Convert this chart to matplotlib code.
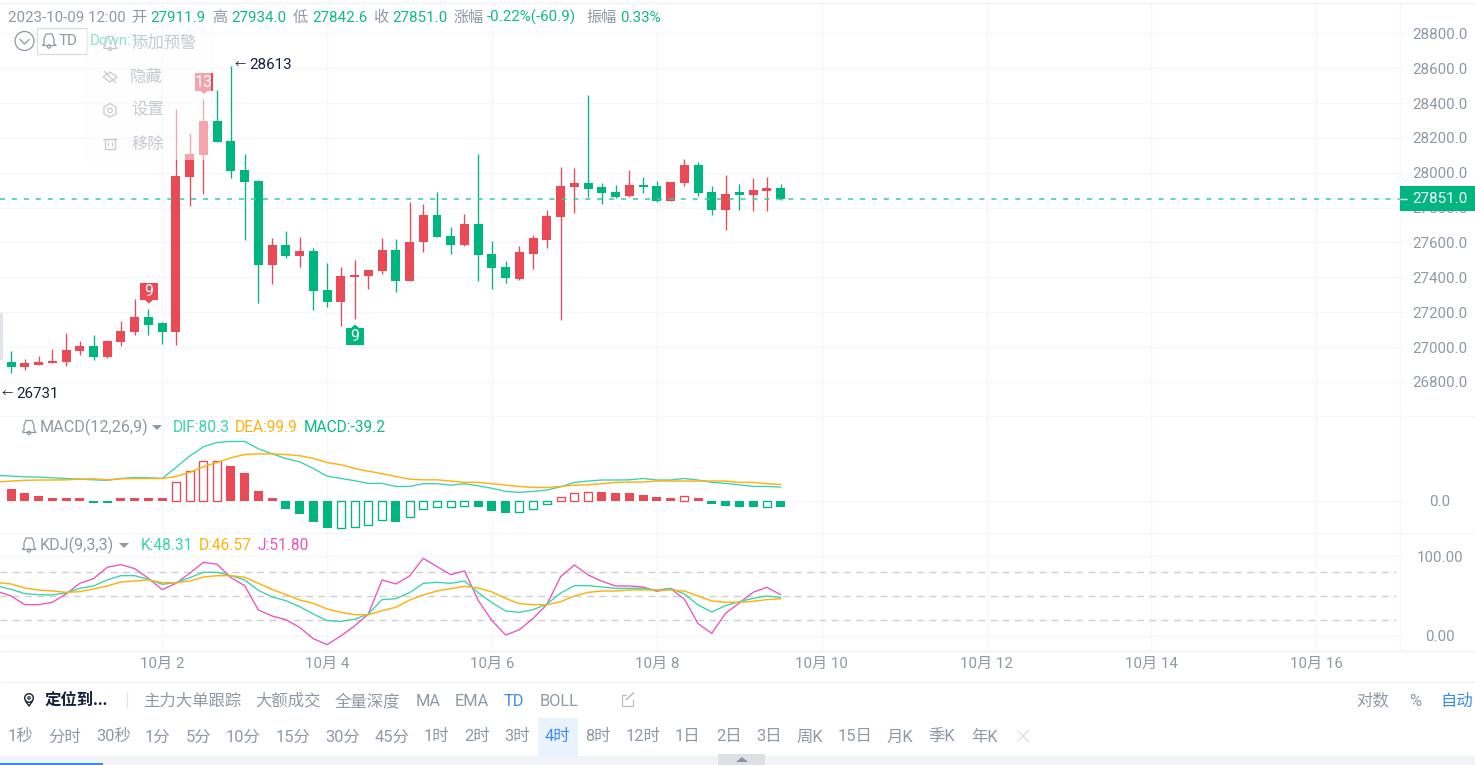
import numpy as np
import matplotlib
matplotlib.use("Agg")
import matplotlib.pyplot as plt
from matplotlib.patches import Rectangle, Polygon, Circle

plt.rcParams['font.family'] = ['Roboto', 'Noto Sans CJK SC', 'DejaVu Sans']
plt.rcParams['lines.scale_dashes'] = False

# ---------- data ----------
opens = [26912,26883,26896,26906,26912,26975,27004,26941,27027,27084,27170,27136,27084,27975,28102,28295,28180,28014,27951,27473,
         27587,27520,27549,27329,27256,27400,27405,27434,27556,27377,27601,27757,27635,27585,27708,27536,27457,27392,27536,27614,
         27744,27916,27939,27916,27888,27865,27929,27922,27836,27939,28044,27888,27788,27888,27870,27893,27911.9]
closes = [26883,26906,26912,26918,26985,27004,26941,27032,27090,27170,27128,27084,27979,28110,28295,28175,28008,27945,27473,27587,
          27520,27549,27319,27256,27405,27415,27442,27556,27377,27601,27757,27629,27585,27708,27528,27451,27394,27543,27624,27750,
          27922,27939,27906,27882,27863,27929,27916,27836,27945,28044,27882,27788,27880,27872,27903,27911,27851]
highs = [26975,26933,26946,26986,27082,27032,27069,27038,27147,27277,27216,27141,28364,28230,28425,28473,28613,28110,27956,27625,
         27664,27629,27566,27480,27457,27497,27442,27625,27618,27830,27823,27888,27687,27761,28110,27606,27496,27582,27642,27784,
         28033,28027,28448,27943,27932,28018,27974,27951,27945,28081,28060,27926,27989,27938,27968,27975,27934]
lows = [26850,26868,26895,26906,26889,26956,26927,26937,27004,27069,27067,27019,27013,27809,27880,28175,27968,27612,27252,27364,
        27509,27457,27210,27228,27119,27160,27333,27417,27314,27377,27547,27629,27532,27578,27377,27331,27367,27383,27447,27568,
        27153,27769,27859,27819,27857,27860,27882,27830,27836,27922,27865,27756,27669,27788,27779,27779,27842.6]
last_price = 27851.0

macd_hist = [67,45,29,16,16,16,-14,-14,16,16,16,16,110,174,233,233,206,163,59,16,
             -51,-80,-123,-159,-159,-153,-145,-116,-123,-94,-47,-39,-39,-29,-37,-59,-71,-65,-47,-20,
             20,43,49,51,45,45,35,22,16,27,16,-22,-29,-37,-37,-35,-39.2]
macd_hollow = [12,13,14,15,24,25,26,27,29,30,31,32,33,37,38,39,40,41,42,49,55]
# the line series start one bar further left (clipped at the chart edge)
dif = [149,145,141,139,135,131,127,123,120,131,137,135,131,196,263,318,343,349,349,306,276,249,229,190,145,131,118,102,102,84,
       84,100,100,92,100,88,73,55,49,55,63,82,108,116,122,122,123,131,122,122,131,122,108,102,94,84,84,80.3]
dea = [110,116,120,122,122,123,127,129,123,129,131,131,131,143,167,200,225,253,272,276,276,272,265,249,225,212,190,174,159,143,
       127,123,123,116,108,108,100,92,84,78,78,84,92,94,100,108,110,110,116,116,116,116,116,116,108,108,100,96]
kdj_k = [62.7,58.4,53,51.7,51.3,53.8,59.7,62.7,70.3,75.7,75.7,71.1,64.8,66.9,73.2,80,80,75.7,70.3,57.2,48.7,44.1,36.5,27.2,18.8,17.9,20.5,27.2,45.4,46.6,
         54.2,66,67.3,66,69,54.2,41.6,31,29.3,32.7,39.9,53.8,63.1,63.1,61.4,59.7,59.7,59.7,57.6,59.7,52.5,38.6,29.7,37.8,42.8,47,50,48.31]
kdj_d = [66.9,65.2,60.1,57.6,56.3,54.6,55.5,58.9,62.7,67.7,69,70.3,66.9,66.9,69,74,75.7,75.7,73.6,66,58.4,51.7,44.9,40.7,33.5,29.3,26.4,26.4,31.4,35.7,
         44.9,51.3,56.3,59.3,62.2,60.1,55.1,47,40.3,39,39,42.8,50,54.6,56.3,56.3,57.6,57.6,57.6,57.6,56.3,50,43.7,42,42,43.2,45.4,46.57]
kdj_j = [55.9,50,39,39,42,52.5,66,71.9,86.3,89.7,84.6,72.4,58,66,78.7,92.6,90.1,73.2,63.1,32.3,24.7,20,10.3,-4,-11.6,-0.6,12,27.2,70.3,65.2,
         75.3,97.7,87.1,77,81.7,44.5,18.8,0.6,7.4,21.7,39.5,74.5,89.2,76.6,68.6,62.7,62.7,61.4,55.9,59.3,46.2,15,2.7,28.1,41.1,54.6,61,51.80]

price_ticks = [26800,27000,27200,27400,27600,27800,28000,28200,28400,28600,28800]
date_positions = [11,23,35,47,59,71,83,95]
date_labels = ['10月 2','10月 4','10月 6','10月 8','10月 10','10月 12','10月 14','10月 16']
kdj_guides = [20,50,80]

# ---------- colours ----------
RED, GREEN = '#ea4a56', '#00b680'
TEAL, ORANGE, PINK = '#35d3b0', '#ffb10f', '#e953c0'
GREY, TXT_GREEN, NAVY, BLUE = '#8f98a6', '#0dbb85', '#14213d', '#3c8cf0'
GRID = '#f6f7f8'

W, H = 1475, 765
fig = plt.figure(figsize=(W / 100, H / 100), dpi=100, facecolor='white')

BAR_PX = 13.74
X0_IDX = 11 - 162.2 / BAR_PX
X1_IDX = 11 + (1407 - 162.2) / BAR_PX
FS = 10.9       # numbers on axes and header
FS_LEG = 11.2   # indicator legends
FS_BAR = 11.8   # toolbars and menu


def panel(top, bottom):
    ax = fig.add_axes([0, 1 - bottom / H, 1407 / W, (bottom - top) / H], zorder=1)
    ax.set_xlim(X0_IDX, X1_IDX)
    for s in ax.spines.values():
        s.set_visible(False)
    ax.set_facecolor('none')
    ax.yaxis.tick_right()
    ax.tick_params(axis='y', length=0, pad=23.76, labelsize=FS, labelcolor=GREY)
    ax.tick_params(axis='x', length=0, labelbottom=False)
    ax.set_xticks(date_positions)
    ax.grid(True, color=GRID, lw=1)
    ax.set_axisbelow(True)
    return ax


def center_labels(ax):
    for l in ax.get_yticklabels():
        l.set_ha('center')


idx = np.arange(len(opens))
line_idx = np.arange(-1, len(opens))
o, c = np.array(opens), np.array(closes)
up = c >= o
colors = [RED if u else GREEN for u in up]

# ---------- price panel ----------
ax = panel(5.4, 416.4)
ax.set_ylim(26602, 28960.7)
ax.set_yticks(price_ticks)
ax.set_yticklabels([f'{p:.1f}' for p in price_ticks])
center_labels(ax)
ax.vlines(idx, lows, highs, colors=colors, lw=0.95, zorder=3)
ax.bar(idx, np.abs(c - o), bottom=np.minimum(o, c), width=0.655, color=colors, lw=0, zorder=4)
ax.plot([X0_IDX, 11 + (1400 - 162.2) / BAR_PX], [last_price] * 2, color='#35cd9f', lw=1.1,
        ls=(0, (3.6, 5.0)), zorder=5)

# ---------- MACD panel ----------
ax2 = panel(416, 533)
ax2.set_ylim(-190, 498.8)
ax2.set_yticks([0])
ax2.set_yticklabels(['0.0'])
center_labels(ax2)
h = np.array(macd_hist)
hollow = np.isin(idx, macd_hollow)
hc = [RED if v > 0 else GREEN for v in h]
ax2.bar(idx[~hollow], h[~hollow], width=0.655, color=np.array(hc)[~hollow], lw=0, zorder=3)
ax2.bar(idx[hollow], h[hollow], width=0.58, facecolor='white', edgecolor=np.array(hc)[hollow], lw=0.95, zorder=3)
ax2.plot(line_idx, dif, color=TEAL, lw=0.95, zorder=4)
ax2.plot(line_idx, dea, color=ORANGE, lw=1.05, zorder=5)

# ---------- KDJ panel ----------
ax3 = panel(533, 651)
ax3.set_ylim(-19.6, 129.7)
ax3.set_yticks([0, 100])
ax3.set_yticklabels(['0.00', '100.00'])
center_labels(ax3)
ax3.tick_params(axis='x', labelbottom=True, pad=4.2, labelsize=FS, labelcolor=GREY)
ax3.set_xticklabels(date_labels)
for g in kdj_guides:
    ax3.plot([X0_IDX, 11 + (1396 - 162.2) / BAR_PX], [g, g], color='#cfcfcf', lw=1.0,
             ls=(0, (5.0, 3.8)), zorder=2)
ax3.plot(line_idx, kdj_j, color=PINK, lw=0.95, zorder=3)
ax3.plot(line_idx, kdj_k, color=TEAL, lw=0.95, zorder=4)
ax3.plot(line_idx, kdj_d, color=ORANGE, lw=1.05, zorder=5)

# ---------- interface layer, in pixel coordinates ----------
ui = fig.add_axes([0, 0, 1, 1], zorder=5)
ui.set_xlim(0, W)
ui.set_ylim(H, 0)
ui.axis('off')


def t(x, y, s, color=GREY, size=FS, ha='left', weight='normal', z=6, **kw):
    ui.text(x, y, s, color=color, fontsize=size, ha=ha, va='center', fontweight=weight, zorder=z, **kw)


def ln(xs, ys, color='#f0f1f3', lw=1.0, z=2, **kw):
    ui.plot(xs, ys, color=color, lw=lw, zorder=z, solid_capstyle='butt', **kw)


def bell(x, y, color=GREY, z=6, lw=0.9):
    xs = [x - 7, x - 5, x - 5, x - 3, x + 3, x + 5, x + 5, x + 7]
    ys = [y + 5, y + 4, y - 1, y - 6, y - 6, y - 1, y + 4, y + 5]
    ln(xs, ys, color=color, lw=lw, z=z)
    ln([x - 7, x + 7], [y + 5, y + 5], color=color, lw=lw, z=z)
    ui.add_patch(Circle((x, y + 6.5), 1.6, fc='none', ec=color, lw=lw, zorder=z))


def rect(x0, y0, x1, y1, fc, z=1, **kw):
    ui.add_patch(Rectangle((x0, y0), x1 - x0, y1 - y0, fc=fc, ec='none', zorder=z, **kw))


# frame lines
ln([0, W], [3, 3])
ln([1400, 1400], [5, 651], color=GRID)
ln([0, W], [416, 416], color=GRID)
ln([0, W], [533, 533], color=GRID)
ln([0, W], [651, 651], color='#f0f1f3')
ln([0, W], [681.5, 681.5], color='#f0f1f3')
rect(0, 313, 3, 360, '#e1e4ea')

# header
for x, s, col in [(8, '2023-10-09 12:00', GREY), (131, '开', GREY), (150, '27911.9', TXT_GREEN), (212, '高', GREY),
                  (231, '27934.0', TXT_GREEN), (292.5, '低', GREY), (312, '27842.6', TXT_GREEN), (373, '收', GREY),
                  (392, '27851.0', TXT_GREEN), (453, '涨幅', GREY), (487, '-0.22%(-60.9)', TXT_GREEN),
                  (586, '振幅', GREY), (620, '0.33%', TXT_GREEN)]:
    t(x, 17.5, s, col)

# indicator legends
ui.add_patch(Circle((24.5, 41), 9.5, fc='white', ec=GREY, lw=0.9, zorder=3))
ln([19.5, 24.5, 29.5], [39, 44, 39], color=GREY, lw=0.9, z=4)
ui.add_patch(Rectangle((36.5, 27.5), 50, 26, fc='white', ec='#d9dce1', lw=0.9, zorder=3))
bell(49, 40, z=4)
t(59, 40.5, 'TD', GREY, z=4)
t(90, 40.5, 'Down:1', '#1cc89a', z=4)

bell(29, 426.5, z=6)
t(40, 427.5, 'MACD(12,26,9)', size=FS_LEG + 0.4)
ui.add_patch(Polygon([[152, 425], [162, 425], [157, 430]], fc=GREY, ec='none', zorder=6))
t(173, 427.5, 'DIF:80.3', TEAL, size=FS_LEG)
t(235, 427.5, 'DEA:99.9', ORANGE, size=FS_LEG)
t(304, 427.5, 'MACD:-39.2', TXT_GREEN, size=FS_LEG)

bell(29, 544, z=6)
t(40, 545, 'KDJ(9,3,3)', size=FS_LEG + 0.4)
ui.add_patch(Polygon([[119, 543], [129, 543], [124, 548]], fc=GREY, ec='none', zorder=6))
t(141, 545, 'K:48.31', TEAL, size=FS_LEG)
t(199, 545, 'D:46.57', ORANGE, size=FS_LEG)
t(258, 545, 'J:51.80', PINK, size=FS_LEG)

# extreme labels
t(235, 65, '←', NAVY, size=8)
t(249, 65, '28613', NAVY)
t(2, 393.5, '←', NAVY, size=8)
t(16, 393.5, '26731', NAVY)

# TD count tags
rect(140, 283, 158, 300, RED, z=3)
ui.add_patch(Polygon([[145, 300], [153, 300], [149, 303.5]], fc=RED, ec='none', zorder=3))
t(149, 291.5, '9', 'white', size=11.5, ha='center', z=4)
rect(346, 328, 364, 345, GREEN, z=3)
ui.add_patch(Polygon([[351, 328], [359, 328], [355, 324.5]], fc=GREEN, ec='none', zorder=3))
t(355, 336.5, '9', 'white', size=11.5, ha='center', z=4)
rect(195, 73, 213, 90.5, RED, z=3)
ui.add_patch(Polygon([[200, 90.5], [208, 90.5], [204, 94]], fc=RED, ec='none', zorder=3))
t(204, 82, '13', 'white', size=11.5, ha='center', z=4)

# context menu
rect(85, 25, 213, 162, '#8890a0', z=4.8, alpha=0.015)
rect(87, 27, 211, 160, 'white', z=5, alpha=0.5)
MC = '#c6c9cf'
for y, s, x in [(43, '添加预警', 131), (77, '隐藏', 130), (110, '设置', 131), (144, '移除', 131)]:
    t(x, y, s, MC, size=FS_BAR)
bell(110, 42.5, MC)
ui.add_patch(Polygon([[103, 77], [110, 72], [117, 77], [110, 82]], fc='none', ec=MC, lw=0.9, zorder=6))
ln([104, 116], [71, 83], color=MC, lw=0.9, z=6)
ui.add_patch(Polygon([[110, 103.5], [116, 107], [116, 114], [110, 117], [104, 114], [104, 107]], fc='none', ec=MC, lw=0.9, zorder=6))
ui.add_patch(Circle((110, 110.5), 2.3, fc='none', ec=MC, lw=0.9, zorder=6))
ln([103, 117], [139, 139], color=MC, lw=0.9, z=6)
ui.add_patch(Rectangle((105, 139), 10, 10, fc='none', ec=MC, lw=0.9, zorder=6))
ln([108, 108], [142, 146], color=MC, lw=0.9, z=6)
ln([112, 112], [142, 146], color=MC, lw=0.9, z=6)

# last price tag
rect(1400, 186, 1475, 211, GREEN, z=4)
ln([1400, 1407], [198.8, 198.8], color='white', lw=1.0, z=5)
t(1440, 199, f'{last_price:.1f}', 'white', ha='center', z=6)

# toolbar row 1
ui.add_patch(Circle((29, 698), 4.3, fc='none', ec=NAVY, lw=1.0, zorder=6))
ui.add_patch(Circle((29, 698), 1.3, fc='none', ec=NAVY, lw=0.8, zorder=6))
ln([25.2, 29, 32.8], [700.5, 706, 700.5], color=NAVY, lw=1.0, z=6)
t(45, 700.5, '定位到...', NAVY, size=FS_BAR, weight='bold')
ln([127, 127], [692, 708], color='#e4e6ea')
for x, s, col in [(143, '主力大单跟踪', GREY), (255, '大额成交', GREY), (335, '全量深度', GREY), (416, 'MA', GREY),
                  (455, 'EMA', GREY), (504, 'TD', BLUE), (540, 'BOLL', GREY), (1356, '对数', GREY),
                  (1409, '%', GREY), (1440, '自动', BLUE)]:
    t(x, 701, s, col, size=FS_BAR)
ui.add_patch(Rectangle((621.5, 694.5), 11, 11, fc='none', ec='#b8bdc6', lw=0.9, zorder=6))
rect(627, 692, 635, 700, 'white', z=6.5)
ln([626, 634], [700, 692.5], color='#a8aeb8', lw=0.9, z=7)

# toolbar row 2
rect(538, 718, 578, 756, '#e9f3fd')
for x, s in [(8, '1秒'), (48, '分时'), (96, '30秒'), (145, '1分'), (186, '5分'), (226, '10分'), (276, '15分'),
             (325, '30分'), (375, '45分'), (424, '1时'), (464, '2时'), (504, '3时'), (585, '8时'), (626, '12时'),
             (675, '1日'), (716, '2日'), (756, '3日'), (796, '周K'), (838, '15日'), (887, '月K'), (928, '季K'), (971, '年K')]:
    t(x, 737, s, size=FS_BAR)
t(545, 737, '4时', BLUE, size=FS_BAR)
ln([1017, 1029], [730, 742], color='#dfe1e5', lw=1.0)
ln([1017, 1029], [742, 730], color='#dfe1e5', lw=1.0)

# bottom strip
rect(0, 756, W, H, '#f1f3f8')
rect(0, 763, 103, H, '#3c8cf0', z=2)
rect(718, 754, 765, H, '#dde0e5', z=2)
ui.add_patch(Polygon([[736, 762], [748, 762], [742, 757]], fc='#8b929c', ec='none', zorder=3))

fig.savefig('out.png', dpi=100, facecolor='white')
